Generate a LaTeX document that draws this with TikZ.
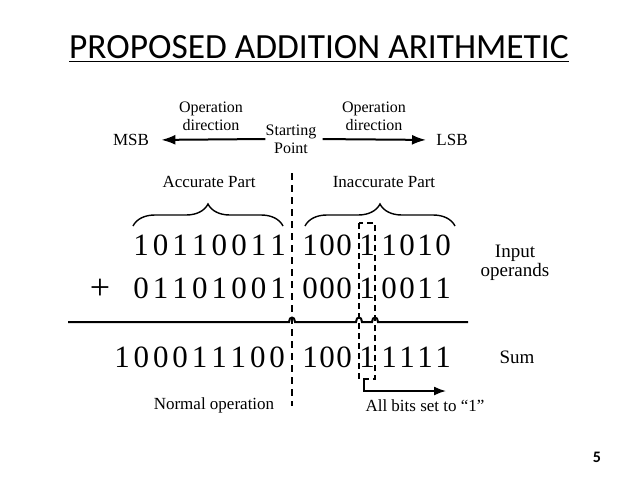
\documentclass[tikz,border=0pt]{standalone}
\usepackage{fontspec}
\setmainfont{Liberation Serif}
\newfontfamily\titlefont{Carlito}
\usetikzlibrary{arrows.meta,decorations.pathreplacing}

\begin{document}
\begin{tikzpicture}[x=0.5pt,y=-0.5pt]
    \tikzstyle{bit}=[font=\fontsize{15.5}{15.5}\selectfont, inner sep=0pt];
    \tikzstyle{lbl}=[font=\fontsize{8.5}{10}\selectfont, align=center, inner sep=0pt];
    \tikzstyle{small}=[font=\fontsize{8}{9}\selectfont, align=center, inner sep=0pt];
    \tikzstyle{dir arrow}=[line width=1pt, -{Latex[length=7pt,width=5pt]}];
    \tikzstyle{split line}=[line width=0.8pt, dash pattern=on 3.5pt off 2.5pt];
    \tikzstyle{box line}=[line width=0.6pt, dash pattern=on 3pt off 2pt];
    \tikzstyle{part brace}=[line width=0.7pt, decorate, decoration={brace, amplitude=11pt}];

    % Fix the page size
    \useasboundingbox (0,0) rectangle (638,478);

    % Title of the slide
    \node (title) at (319,49) {\titlefont\fontsize{17.7}{20}\selectfont\underline{PROPOSED ADDITION ARITHMETIC}};

    % Operation directions from the starting point
    \node[small] (start) at (291,139) {Starting\\Point};
    \node[lbl] (msb) at (131,140) {MSB};
    \node[lbl] (lsb) at (452,140) {LSB};
    \node[small] (leftdir) at (211,116) {Operation\\direction};
    \node[small] (rightdir) at (374,116) {Operation\\direction};
    \draw[dir arrow, shorten <=0pt, shorten >=6pt] (start.west) -- (msb.east);
    \draw[dir arrow, shorten <=3pt, shorten >=5pt] (start.east) -- (lsb.west);

    % Accurate and inaccurate parts with their braces
    \node[lbl] (accurate) at (209,182) {Accurate Part};
    \node[lbl] (inaccurate) at (384,182) {Inaccurate Part};
    \coordinate (lb1) at (133,226);
    \coordinate (lb2) at (283,226);
    \coordinate (rb1) at (305,226);
    \coordinate (rb2) at (455,226);
    \draw[part brace] (lb1) -- (lb2);
    \draw[part brace] (rb1) -- (rb2);

    % First operand
    \foreach \d [count=\i] in {1,0,1,1,0,0,1,1}
        \node[bit] (a\i) at ({141+19.6*(\i-1)},245) {\d};
    \foreach \d/\x [count=\i] in {1/310,0/327,0/344,1/367,1/389,0/407,1/425,0/443}
        \node[bit] (ar\i) at (\x,245) {\d};

    % Second operand
    \node[bit, font=\fontsize{18}{18}\selectfont] (plus) at (100,289) {+};
    \foreach \d [count=\i] in {0,1,1,0,1,0,0,1}
        \node[bit] (b\i) at ({141+19.6*(\i-1)},288) {\d};
    \foreach \d/\x [count=\i] in {0/310,0/327,0/344,1/367,0/389,0/407,1/425,1/443}
        \node[bit] (br\i) at (\x,288) {\d};
    \node[lbl, font=\fontsize{9.5}{9.5}\selectfont] (operands) at (515,263) {Input\\operands};

    % Line under the operands
    \draw[line width=1pt] (68,322) -- (289,322) .. controls (289,316) and (295,316) .. (295,322)
        -- (356,322) .. controls (356,316) and (362,316) .. (362,322)
        -- (372,322) .. controls (372,316) and (378,316) .. (378,322) -- (468,322);

    % Sum
    \foreach \d [count=\i] in {1,0,0,0,1,1,1,0,0}
        \node[bit] (s\i) at ({122+19.4*(\i-1)},357) {\d};
    \foreach \d/\x [count=\i] in {1/310,0/327,0/344,1/367,1/389,1/407,1/425,1/443}
        \node[bit] (sr\i) at (\x,357) {\d};
    \node[lbl, font=\fontsize{9.5}{9.5}\selectfont] (sum) at (517,357) {Sum};

    % Split between the two parts
    \coordinate (splittop) at (292,173);
    \coordinate (splitbot) at (292,406);
    \draw[split line] (splittop) -- (splitbot);

    % Dashed box round the starting bit
    \coordinate (boxtl) at (359,223);
    \coordinate (boxbr) at (375,379);
    \draw[box line] (boxtl) rectangle (boxbr);
    \coordinate (boxfoot) at (364,379);
    \coordinate (setend) at (446,391);
    \draw[line width=0.8pt, -{Latex[length=6pt,width=4.5pt]}] (boxfoot) |- (setend);

    % Bottom labels
    \node[lbl] (normal) at (214,405) {Normal operation};
    \node[lbl] (allset) at (425,406) {All bits set to “1”};

    % Page number
    \node[font={\titlefont\bfseries\fontsize{8}{8}\selectfont}] (page) at (597,457) {5};
\end{tikzpicture}
\end{document}
